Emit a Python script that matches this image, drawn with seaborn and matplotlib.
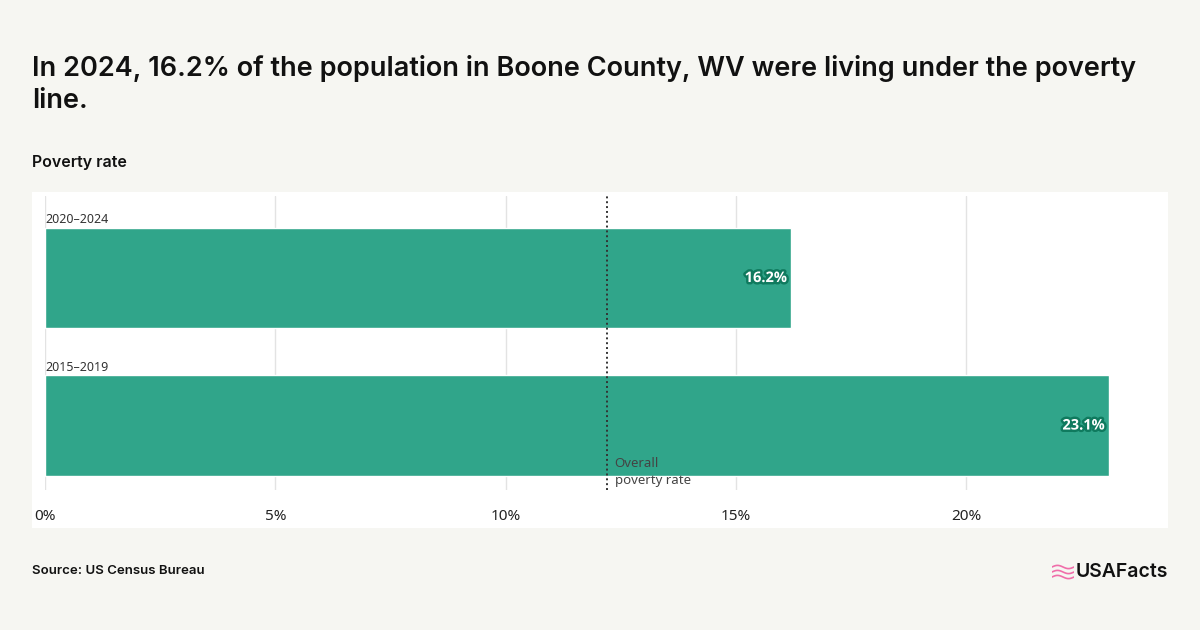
import numpy as np
import pandas as pd
import seaborn as sns
import matplotlib.pyplot as plt
import matplotlib.patheffects as pe

## Data
periods = ['2020–2024', '2015–2019']
poverty_rate = [16.2, 23.1]
overall_rate = 12.2
x_ticks = [0, 5, 10, 15, 20]
x_tick_labels = ['0%', '5%', '10%', '15%', '20%']

df = pd.DataFrame({'period': periods, 'rate': poverty_rate})

bg = '#f6f6f2'
bar_color = '#30a58a'

sns.set_theme(style='white')
plt.rcParams['font.family'] = ['Noto Sans', 'DejaVu Sans']

fig = plt.figure(figsize=(12, 6.3), dpi=100, facecolor=bg)

# white panel behind the chart
panel = fig.add_axes([32/1200, 1-528/630, 1136/1200, 336/630])
panel.set_facecolor('white')
panel.set_xticks([])
panel.set_yticks([])
for s in panel.spines.values():
    s.set_visible(False)

ax = fig.add_axes([45/1200, 1-490/630, 1110/1200, 294/630])
ax.set_facecolor('none')
sns.barplot(data=df, x='rate', y='period', orient='h', color=bar_color,
            width=0.68, saturation=1, ax=ax, zorder=2)
ax.set_xlim(0, 1110/46.05)
ax.set_ylim(1.437, -0.556)

ax.set_xticks(x_ticks)
ax.set_xticklabels(x_tick_labels, fontsize=11, color='#222222')
ax.tick_params(axis='x', length=0, pad=14)
ax.set_yticks([])
ax.set_xlabel('')
ax.set_ylabel('')
for s in ax.spines.values():
    s.set_visible(False)
ax.grid(axis='x', color='#e3e3e3', linewidth=1, zorder=0)
ax.set_axisbelow(True)

for i, (p, v) in enumerate(zip(periods, poverty_rate)):
    ax.text(0, i - 0.35, p, ha='left', va='bottom', fontsize=9, color='#333333')
    ax.text(v - 0.08, i, f'{v}%', ha='right', va='center', fontsize=10.5,
            fontweight='bold', family=['Open Sans', 'DejaVu Sans'], color='white', zorder=4,
            path_effects=[pe.withStroke(linewidth=3.5, foreground='#0f7a5e')])

ax.axvline(overall_rate, color='#333333', linestyle=(0, (1, 1.5)), linewidth=1.4, zorder=3)
ax.text(overall_rate + 0.17, 1.315, 'Overall\npoverty rate', ha='left', va='center',
        fontsize=9.5, color='#444444', linespacing=1.35, zorder=4)

## Titles and footer
title_font = ['Inter', 'DejaVu Sans']
fig.text(32/1200, 1-69/630, 'In 2024, 16.2% of the population in Boone County, WV were living under the poverty',
         fontsize=19.5, fontweight='semibold', family=title_font, color='#111111', va='center')
fig.text(32/1200, 1-101/630, 'line.',
         fontsize=19.5, fontweight='semibold', family=title_font, color='#111111', va='center')
fig.text(32/1200, 1-163/630, 'Poverty rate', fontsize=11.5, fontweight='semibold',
         family=title_font, color='#111111', va='center')
fig.text(32/1200, 1-571/630, 'Source: US Census Bureau', fontsize=9.5, fontweight='semibold',
         family=title_font, color='#111111', va='center')
fig.text(1168/1200, 1-572/630, 'USAFacts', fontsize=14, fontweight='semibold',
         family=title_font, color='#111111', va='center', ha='right')

# small pink logo mark
logo = fig.add_axes([1052/1200, 1-582/630, 22/1200, 20/630])
logo.axis('off')
t = np.linspace(0, 1, 30)
for k in range(3):
    logo.plot(t, 0.25 + 0.25*k + 0.08*np.sin(t*6.28), color='#f06eaa', lw=1.2)
logo.set_xlim(0, 1)
logo.set_ylim(0, 1)

fig.savefig('out.png', dpi=100, facecolor=bg)
